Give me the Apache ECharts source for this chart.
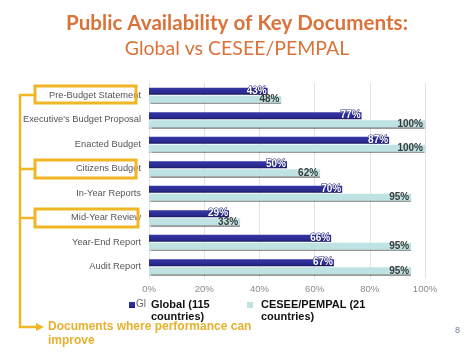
<!DOCTYPE html>
<html>
<head>
<meta charset="utf-8">
<script src="https://cdn.jsdelivr.net/npm/echarts@6/dist/echarts.min.js"></script>
<style>
html,body{margin:0;padding:0;background:#fff;}
#main{width:474px;height:355px;}
</style>
</head>
<body>
<div id="main"></div>
<script>
var categories = ['Pre-Budget Statement', "Executive's Budget Proposal", 'Enacted Budget', 'Citizens Budget', 'In-Year Reports', 'Mid-Year Review', 'Year-End Report', 'Audit Report'];
var globalValues = [43, 77, 87, 50, 70, 29, 66, 67];
var cesseValues = [48, 100, 100, 62, 95, 33, 95, 95];
var xTicks = [0, 20, 40, 60, 80, 100];
var seriesNames = ['Global (115\ncountries)', 'CESEE/PEMPAL (21\ncountries)'];

var chart = echarts.init(document.getElementById('main'));
var gold = '#f0b623';
function legendFmt(n) { return ' \n' + n; }
var option = {
  animation: false,
  backgroundColor: '#ffffff',
  grid: { left: 149, right: 49, top: 83, height: 196, containLabel: false },
  xAxis: {
    type: 'value', min: xTicks[0], max: xTicks[xTicks.length - 1], interval: 20,
    axisLabel: { formatter: '{value}%', color: '#8a8a8a', fontSize: 9.5, fontFamily: 'Liberation Sans', margin: 5 },
    axisLine: { show: false }, axisTick: { show: false },
    splitLine: { lineStyle: { color: '#e2e2e2', width: 1 } }
  },
  yAxis: {
    type: 'category', data: categories, inverse: true,
    axisTick: { show: false },
    axisLine: { show: true, lineStyle: { color: '#e2e2e2' } },
    axisLabel: { color: '#555', fontSize: 9.3, fontFamily: 'Liberation Sans', margin: 8 }
  },
  legend: [{
    data: [seriesNames[0]], left: 129, top: 287, padding: 0, formatter: legendFmt,
    itemWidth: 6, itemHeight: 6, icon: 'rect',
    textStyle: { color: '#111', fontWeight: 'bold', fontSize: 11, fontFamily: 'Liberation Sans', lineHeight: 12, padding: [0, 0, 0, 11] }
  }, {
    data: [seriesNames[1]], left: 247, top: 287, padding: 0, formatter: legendFmt,
    itemWidth: 6, itemHeight: 6, icon: 'rect',
    textStyle: { color: '#111', fontWeight: 'bold', fontSize: 11, fontFamily: 'Liberation Sans', lineHeight: 12, padding: [0, 0, 0, 3] }
  }],
  series: [{
    name: seriesNames[0], type: 'bar', data: globalValues, barWidth: 7, barGap: '15%',
    itemStyle: { color: new echarts.graphic.LinearGradient(0, 0, 0, 1, [{ offset: 0, color: '#3535a6' }, { offset: 0.7, color: '#2a2a90' }, { offset: 1, color: '#1a1a60' }]) },
    label: { show: true, position: 'insideRight', distance: 1, formatter: '{c}%', color: '#fff', fontWeight: 'bold', fontSize: 10, fontFamily: 'Liberation Sans', textBorderColor: '#23237a', textBorderWidth: 1 }
  }, {
    name: seriesNames[1], type: 'bar', data: cesseValues, barWidth: 7,
    itemStyle: { color: '#bfe3e3', shadowColor: 'rgba(0,0,0,0.4)', shadowOffsetY: 1.5, shadowBlur: 1 },
    label: { show: true, position: 'insideRight', distance: 2, formatter: '{c}%', color: '#3a3a3a', fontWeight: 'bold', fontSize: 10, fontFamily: 'Liberation Sans' }
  }],
  graphic: [
    { type: 'text', left: 'center', top: 13, style: { text: 'Public Availability of Key Documents:', fill: '#d9733a', font: 'bold 20.6px Lato' } },
    { type: 'text', left: 'center', top: 39, style: { text: 'Global vs CESEE/PEMPAL', fill: '#d9733a', font: '19.5px Lato' } },
    { type: 'rect', shape: { x: 35, y: 86, width: 101, height: 17 }, style: { fill: null, stroke: gold, lineWidth: 3 }, z: 100 },
    { type: 'rect', shape: { x: 35, y: 160, width: 101, height: 18 }, style: { fill: null, stroke: gold, lineWidth: 3 }, z: 100 },
    { type: 'rect', shape: { x: 35, y: 209, width: 103, height: 18 }, style: { fill: null, stroke: gold, lineWidth: 3 }, z: 100 },
    { type: 'polyline', shape: { points: [[35, 95], [20, 95], [20, 327], [38, 327]] }, style: { fill: null, stroke: gold, lineWidth: 2.5 }, z: 100 },
    { type: 'line', shape: { x1: 20, y1: 169, x2: 35, y2: 169 }, style: { stroke: gold, lineWidth: 2.5 }, z: 100 },
    { type: 'line', shape: { x1: 20, y1: 218, x2: 35, y2: 218 }, style: { stroke: gold, lineWidth: 2.5 }, z: 100 },
    { type: 'polygon', shape: { points: [[36, 323], [44, 327], [36, 331]] }, style: { fill: gold }, z: 100 },
    { type: 'text', left: 48, top: 320, style: { text: 'Documents where performance can\nimprove', fill: '#e6b22e', font: 'bold 12px Liberation Sans', lineHeight: 14 } },
    { type: 'text', left: 136, top: 299, style: { text: 'Gl', fill: '#666', font: '10px Liberation Sans' } },
    { type: 'text', left: 455, top: 326, style: { text: '8', fill: '#6a7f96', font: '9px Liberation Sans' } }
  ]
};
chart.setOption(option);
</script>
</body>
</html>
